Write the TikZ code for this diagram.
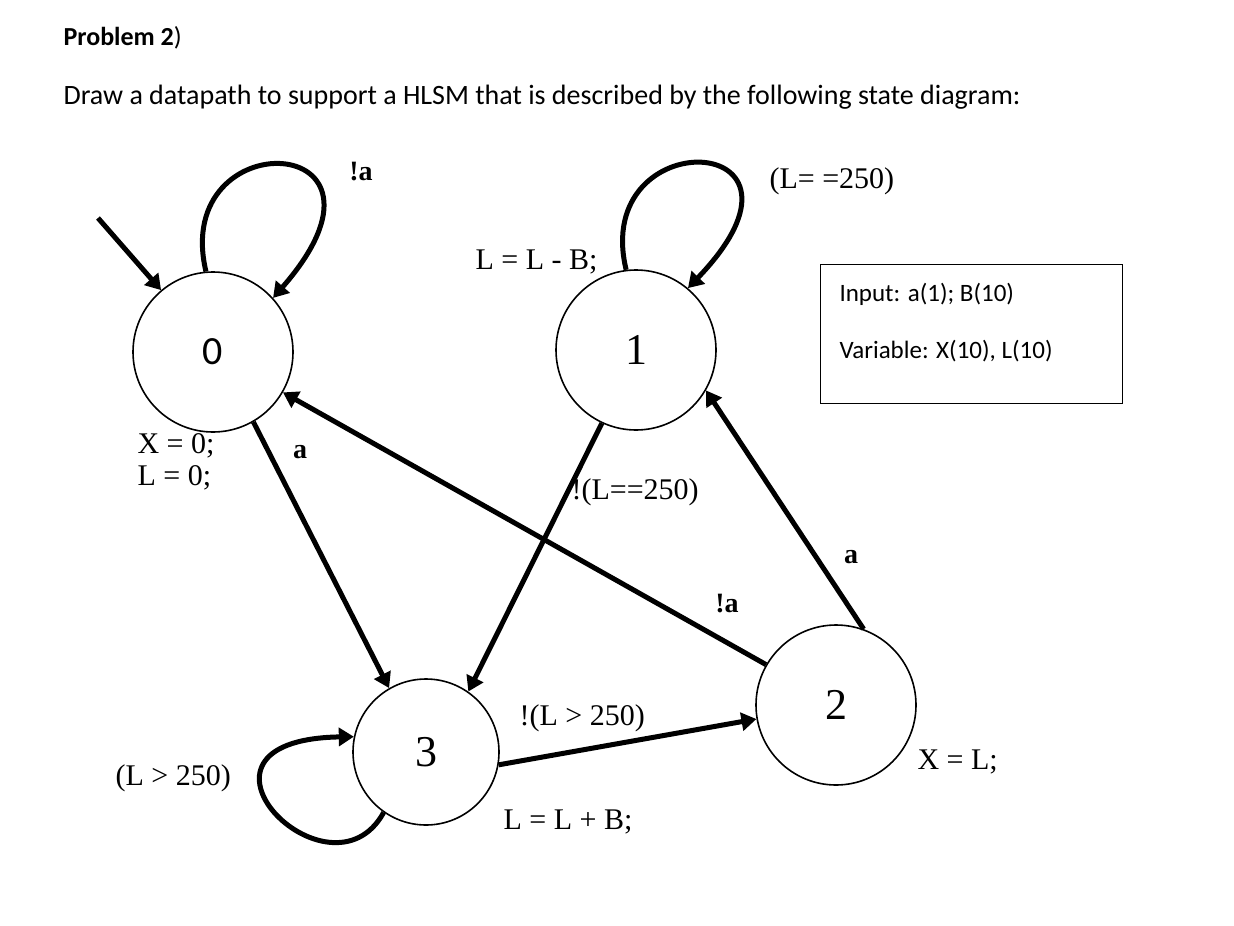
\documentclass[tikz,border=0pt]{standalone}
\usepackage{fontspec}
\setmainfont{Liberation Serif}
\newfontfamily\calfont{Carlito}
\usetikzlibrary{arrows.meta}
\begin{document}
\begin{tikzpicture}[x=1pt,y=-1pt,
  st/.style={circle,draw,line width=1.6pt,inner sep=0pt},
  ar/.style={line width=5pt,-{Triangle[length=15pt,width=18pt]}},
  lb/.style={font=\fontsize{30}{32}\selectfont,anchor=west},
  bl/.style={font=\bfseries\fontsize{28}{30}\selectfont}]
\useasboundingbox (0,0) rectangle (1234,926);
\node[anchor=west,font=\calfont\bfseries\fontsize{26}{28}\selectfont] (t) at (60,38) {Problem 2\textmd{)}};
\node[anchor=west,font=\calfont\fontsize{28}{30}\selectfont] (s) at (60,97) {Draw a datapath to support a HLSM that is described by the following state diagram:};
\node[st,minimum size=160pt,font=\calfont\fontsize{40}{40}\selectfont] (n0) at (213,352) {0};
\node[st,minimum size=160pt,font=\fontsize{44}{44}\selectfont] (n1) at (636,350) {1};
\node[st,minimum size=146pt,font=\fontsize{44}{44}\selectfont] (n3) at (426,752) {3};
\node[st,minimum size=160pt,font=\fontsize{44}{44}\selectfont] (n2) at (836,705) {2};
\coordinate (i) at (98,218);
\draw[ar] (i) -- (n0.130);
\draw[ar] (n0.95) .. controls (170,120) and (420,130) .. (n0.42);
\draw[ar] (n1.97) .. controls (590,120) and (840,130) .. (n1.50);
\draw[ar] (n3.235) .. controls (330,910) and (160,740) .. (n3.168);
\draw[ar] (n0.-60) -- (n3.120);
\draw[ar] (n1.-115) -- (n3.55);
\draw[ar] (n3.-10) -- (n2.190);
\draw[ar] (n2.70) -- (n1.-30);
\draw[ar] (n2.150) -- (n0.-30);
\node[bl] (la1) at (361,172) {!a};
\node[bl] (la2) at (300,452) {a};
\node[bl] (la3) at (727,604) {!a};
\node[bl] (la4) at (851,557) {a};
\node[lb] at (766,181) {(L= =250)};
\node[lb] at (472,262) {L = L - B;};
\node[lb,align=left] at (134,462) {X = 0;\\L = 0;};
\node[lb] at (568,492) {!(L==250)};
\node[lb] at (516,718) {!(L {\textgreater} 250)};
\node[lb] at (112,778) {(L {\textgreater} 250)};
\node[lb] at (500,822) {L = L + B;};
\node[lb] at (914,762) {X = L;};
\node[draw,line width=0.8pt,minimum width=302pt,minimum height=139pt,anchor=north west] (b) at (820,264) {};
\node[anchor=west,font=\calfont\fontsize{25}{27}\selectfont] at (836,294) {Input: a(1); B(10)};
\node[anchor=west,font=\calfont\fontsize{25}{27}\selectfont] at (836,351) {Variable: X(10), L(10)};
\end{tikzpicture}
\end{document}
